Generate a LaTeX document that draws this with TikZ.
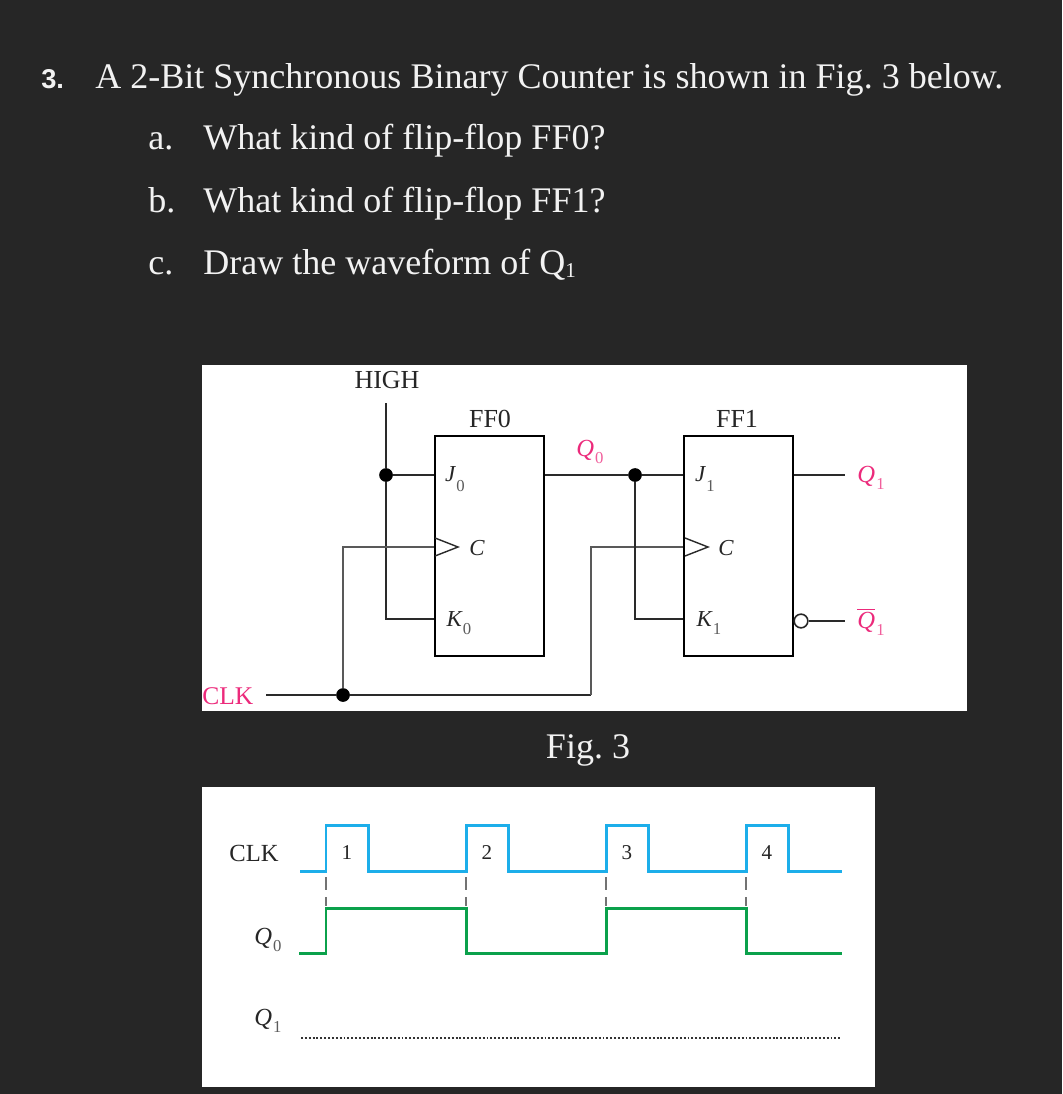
\documentclass[tikz,border=0pt]{standalone}
\usepackage{fontspec}
\setmainfont{Liberation Serif}
\newfontfamily\headfont{Liberation Sans}
\definecolor{pagegray}{HTML}{262626}
\definecolor{textwhite}{HTML}{F2F2F2}
\definecolor{labelpink}{HTML}{EC2A7B}
\definecolor{clkblue}{HTML}{1CAEEA}
\definecolor{qgreen}{HTML}{0BA14B}
\definecolor{wiregray}{HTML}{2A2A2A}
\newcommand{\lowsub}[3]{#1\kern0.6pt\raisebox{#2}{\fontsize{9.5}{10}\selectfont\normalfont\color{.!75!white}#3}}
\frenchspacing
\begin{document}
\begin{tikzpicture}[x=0.02cm, y=-0.02cm, question node/.style={font=\fontsize{20.5}{24}\selectfont, text=textwhite, anchor=base west, inner sep=0pt},panel node/.style={fill=white, draw=none, anchor=north west, inner sep=0pt},ff node/.style={draw=black, line width=1.6pt, fill=white, minimum width=62pt, minimum height=125.2pt, inner sep=0pt},name node/.style={font=\fontsize{14.8}{16}\selectfont, text=black!85, inner sep=0pt},port node/.style={font=\fontsize{13}{15}\selectfont\itshape, text=black!85, inner sep=0pt},pink node/.style={font=\fontsize{14}{16}\selectfont, text=labelpink, inner sep=0pt},wave node/.style={font=\fontsize{14}{16}\selectfont, text=black!85, inner sep=0pt},joint/.style={circle, fill=black, minimum size=7.8pt, inner sep=0pt},bubble/.style={circle, draw=black!85, fill=white, line width=0.9pt, minimum size=7.8pt, inner sep=0pt},wire/.style={draw=wiregray, line width=0.8pt},clkwire/.style={draw=black!65, line width=0.9pt},clkwave/.style={draw=clkblue, line width=1.7pt},qwave/.style={draw=qgreen, line width=1.7pt}]%
\path[use as bounding box, fill=pagegray] (0,0) rectangle (1062,1094);%
  % Question text%
\node[question node, font=\headfont\bfseries\fontsize{15.5}{18}\selectfont] (num) at (41,89) {3.};%
\node[question node] (title) at (95,89) {A 2-Bit Synchronous Binary Counter is shown in Fig. 3 below.};%
\node[question node] (parta) at (148,150) {a.};%
\node[question node] (parttexta) at (203,150) {What kind of flip-flop FF0?};%
\node[question node] (partb) at (148,213) {b.};%
\node[question node] (parttextb) at (203,213) {What kind of flip-flop FF1?};%
\node[question node] (partc) at (148,275) {c.};%
\node[question node] (parttextc) at (203,275) {Draw the waveform of Q\raisebox{-1.5pt}{\fontsize{12}{12}\selectfont 1}};%
  % Circuit panel%
\node[panel node, minimum width=435.3pt, minimum height=196.9pt] (circuit) at (202,365) {};%
\node[ff node] (ff0) at (489.5,546) {};%
\node[ff node] (ff1) at (738.5,546) {};%
\node[name node] (high) at (387,380) {HIGH};%
\node[name node] (ff0name) at (490,419) {FF0};%
\node[name node] (ff1name) at (737,419) {FF1};%
\node[pink node, anchor=west, font=\fontsize{14.5}{16}\selectfont] (clk) at (202,696) {CLK};%
\node[pink node] (q0) at (590,452) {\lowsub{\textit{Q}}{-4pt}{0}};%
\node[pink node] (q1) at (871,478) {\lowsub{\textit{Q}}{-4pt}{1}};%
\node[pink node] (q1bar) at (871,622) {\lowsub{$\overline{\hbox{\textit{Q}}}$}{-4pt}{1}};%
\node[port node] (j0) at (455,479) {\lowsub{J}{-6pt}{0}};%
\node[port node] (k0) at (459,623) {\lowsub{K}{-5pt}{0}};%
\node[port node] (c0) at (477,548) {C};%
\node[port node] (j1) at (705,479) {\lowsub{J}{-6pt}{1}};%
\node[port node] (k1) at (709,623) {\lowsub{K}{-5pt}{1}};%
\node[port node] (c1) at (726,548) {C};%
\node[joint] (highdot) at (386,475) {};%
\node[joint] (q0dot) at (635,475) {};%
\node[joint] (clkdot) at (343,695) {};%
\node[bubble] (q1bubble) at (801,621) {};%
\coordinate (hightop) at (386,403);%
\coordinate (clkstart) at (266,695);%
\coordinate (q1end) at (845,475);%
\coordinate (q1barend) at (845,621);%
\coordinate (ck0) at (ff0.west |- 0,547);%
\coordinate (ck1) at (ff1.west |- 0,547);%
\coordinate (j0pin) at (ff0.west |- 0,475);%
\coordinate (k0pin) at (ff0.west |- 0,619);%
\coordinate (j1pin) at (ff1.west |- 0,475);%
\coordinate (k1pin) at (ff1.west |- 0,619);%
\coordinate (q0pin) at (ff0.east |- 0,475);%
\coordinate (q1pin) at (ff1.east |- 0,475);%
  % Wires%
\draw[wire] (hightop) -- (highdot) -- (j0pin);%
\draw[wire] (highdot) |- (k0pin);%
\draw[wire] (clkstart) -- (clkdot);%
\draw[clkwire] (clkdot) |- (ck0);%
\draw[wire] (clkdot) -- (591,695);%
\draw[clkwire] (591,695) |- (ck1);%
\draw[wire] (q0pin) -- (q0dot) -- (j1pin);%
\draw[wire] (q0dot) |- (k1pin);%
\draw[wire] (q1pin) -- (q1end);%
\draw[wire] (q1bubble) -- (q1barend);%
  % Clock triangles%
\draw[wire] (435,538) -- (458,547) -- (435,556);%
\draw[wire] (685,538) -- (708,547) -- (685,556);%
  % Waveform panel%
\node[panel node, minimum width=382.9pt, minimum height=170.7pt] (waves) at (202,787) {};%
\node[wave node] (clkname) at (254,853) {CLK};%
\node[wave node] (q0name) at (268,940) {\lowsub{\textit{Q}}{-4pt}{0}};%
\node[wave node] (q1name) at (268,1021) {\lowsub{\textit{Q}}{-4pt}{1}};%
\node[wave node, font=\fontsize{12}{12}\selectfont] (pulse1) at (347,853) {1};%
\node[wave node, font=\fontsize{12}{12}\selectfont] (pulse2) at (487,853) {2};%
\node[wave node, font=\fontsize{12}{12}\selectfont] (pulse3) at (627,853) {3};%
\node[wave node, font=\fontsize{12}{12}\selectfont] (pulse4) at (767,853) {4};%
\draw[clkwave] (300,871) -- (326,871) -- (326,825) -- (368,825) -- (368,871) -- (466,871) -- (466,825) -- (508,825) -- (508,871) -- (606,871) -- (606,825) -- (648,825) -- (648,871) -- (746,871) -- (746,825) -- (788,825) -- (788,871) -- (842,871);%
\draw[qwave] (299,953) -- (326,953) -- (326,908) -- (466,908) -- (466,953) -- (606,953) -- (606,908) -- (746,908) -- (746,953) -- (842,953);%
\draw[black!55, line width=0.8pt] (326,877) -- (326,890) (326,897) -- (326,906);%
\draw[black!55, line width=0.8pt] (466,877) -- (466,890) (466,897) -- (466,906);%
\draw[black!55, line width=0.8pt] (606,877) -- (606,890) (606,897) -- (606,906);%
\draw[black!55, line width=0.8pt] (746,877) -- (746,890) (746,897) -- (746,906);%
\draw[black!80, line width=1.3pt, dash pattern=on 1.1pt off 1.1pt] (301,1038) -- (842,1038);%
  % Caption%
\node[question node, anchor=base] (caption) at (588,758) {Fig. 3};%
\end{tikzpicture}
\end{document}
